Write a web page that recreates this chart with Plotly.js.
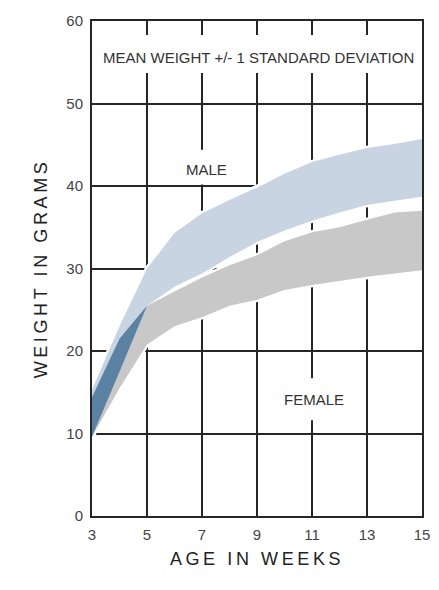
<!DOCTYPE html>
<html>
<head>
<meta charset="utf-8">
<script src="https://cdn.plot.ly/plotly-3.0.1.min.js"></script>
<style>
  html, body { margin: 0; padding: 0; background: #fff; }
  #chart { width: 439px; height: 590px; }
  .xtitle, .ytitle { letter-spacing: 3.6px; }
</style>
</head>
<body>
<div id="chart"></div>
<script>
// Age in weeks
const weeks = [3, 4, 5, 6, 7, 8, 9, 10, 11, 12, 13, 14, 15];
// Male mean +/- 1 SD (grams)
const maleUpper = [15.3, 23.0, 30.0, 34.3, 36.7, 38.3, 39.8, 41.5, 42.9, 43.8, 44.6, 45.1, 45.7];
const maleLower = [9.6, 17.5, 25.5, 27.8, 29.4, 31.4, 33.2, 34.6, 35.8, 36.8, 37.7, 38.2, 38.7];
// Female mean +/- 1 SD (grams)
const femaleUpper = [14.4, 21.5, 25.5, 27.2, 28.9, 30.4, 31.6, 33.3, 34.4, 35.0, 35.9, 36.8, 37.0];
const femaleLower = [9.6, 15.5, 20.8, 23.0, 24.1, 25.5, 26.2, 27.4, 28.0, 28.5, 29.0, 29.4, 29.8];
// Tick values
const xTicks = [3, 5, 7, 9, 11, 13, 15];
const yTicks = [0, 10, 20, 30, 40, 50, 60];
// Labels
const chartNote = 'MEAN WEIGHT +/- 1 STANDARD DEVIATION';
const maleLabel = 'MALE';
const femaleLabel = 'FEMALE';
const xTitle = 'AGE IN WEEKS';
const yTitle = 'WEIGHT IN GRAMS';

function band(xs, up, lo) {
  const x = xs.concat(xs.slice().reverse());
  const y = up.concat(lo.slice().reverse());
  x.push(x[0]); y.push(y[0]);
  return {x, y};
}

// overlap of the two bands (both sexes within 1 SD)
const ovX = [], ovUp = [], ovLo = [];
weeks.forEach((w, i) => {
  const hi = Math.min(maleUpper[i], femaleUpper[i]);
  const lo = Math.max(maleLower[i], femaleLower[i]);
  if (hi >= lo) { ovX.push(w); ovUp.push(hi); ovLo.push(lo); }
});

const mB = band(weeks, maleUpper, maleLower);
const fB = band(weeks, femaleUpper, femaleLower);
const oB = band(ovX, ovUp, ovLo);

const LIGHT = '#c9d4e2', GRAY = '#c8c8c8', DARK = '#5b82a2';
const halo = {mode: 'lines', line: {color: '#ffffff', width: 4.5}, hoverinfo: 'skip', showlegend: false};

const data = [
  Object.assign({x: mB.x, y: mB.y}, halo),
  Object.assign({x: fB.x, y: fB.y}, halo),
  {x: fB.x, y: fB.y, mode: 'none', fill: 'toself', fillcolor: GRAY, name: 'Female', showlegend: false},
  {x: mB.x, y: mB.y, mode: 'none', fill: 'toself', fillcolor: LIGHT, name: 'Male', showlegend: false},
  {x: oB.x, y: oB.y, mode: 'none', fill: 'toself', fillcolor: DARK, name: 'Overlap', showlegend: false}
];

const LINE = '#262626';
const FONT = 'Liberation Sans, Arial, Helvetica, sans-serif';
const axisBase = {
  showgrid: true, gridcolor: LINE, gridwidth: 2,
  showline: true, mirror: true, linecolor: LINE, linewidth: 2,
  ticks: '', zeroline: false, fixedrange: true,
  tickfont: {family: FONT, size: 15, color: '#444'}
};

const layout = {
  width: 439, height: 590,
  margin: {l: 92, r: 17, t: 21, b: 74},
  paper_bgcolor: '#fff', plot_bgcolor: '#fff',
  showlegend: false,
  font: {family: FONT},
  xaxis: Object.assign({}, axisBase, {
    range: [3, 15], tickvals: xTicks, ticklabelstandoff: 4,
    title: {text: xTitle, font: {family: FONT, size: 18, color: '#222'}, standoff: 10}
  }),
  yaxis: Object.assign({}, axisBase, {
    range: [0, 60], tickvals: yTicks, ticklabelstandoff: 4,
    title: {text: yTitle, font: {family: FONT, size: 18, color: '#222'}, standoff: 14}
  }),
  shapes: [
    {type: 'rect', xref: 'x', yref: 'y', x0: 3.6, x1: 14.4, y0: 53.7, y1: 58.3, fillcolor: '#fff', line: {width: 0}, layer: 'between'},
    {type: 'rect', xref: 'x', yref: 'y', x0: 5.12, x1: 8.88, y0: 40.18, y1: 44.4, fillcolor: '#fff', line: {width: 0}, layer: 'between'},
    {type: 'rect', xref: 'x', yref: 'y', x0: 9.12, x1: 12.88, y0: 11.6, y1: 16.7, fillcolor: '#fff', line: {width: 0}, layer: 'between'}
  ],
  annotations: [
    {text: chartNote, x: 9.05, y: 55.6, xref: 'x', yref: 'y', showarrow: false, font: {family: FONT, size: 15, color: '#333'}},
    {text: maleLabel, x: 7.15, y: 42.0, xref: 'x', yref: 'y', showarrow: false, font: {family: FONT, size: 15, color: '#333'}},
    {text: femaleLabel, x: 11.08, y: 14.1, xref: 'x', yref: 'y', showarrow: false, font: {family: FONT, size: 15, color: '#333'}}
  ]
};

Plotly.newPlot('chart', data, layout, {staticPlot: true, displayModeBar: false});
</script>
</body>
</html>
